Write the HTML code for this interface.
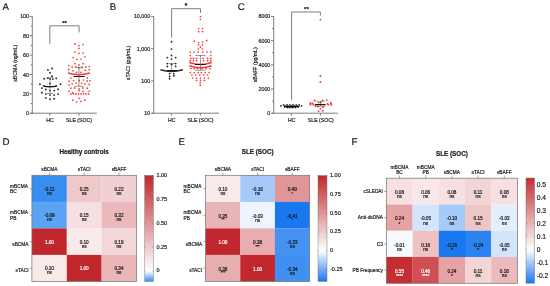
<!DOCTYPE html>
<html><head><meta charset="utf-8"><title>Figure</title>
<style>
html,body{margin:0;padding:0;background:#fff;}
body{width:550px;height:286px;overflow:hidden;}
svg{display:block;font-family:"Liberation Sans", sans-serif;will-change:transform;}
</style></head>
<body>
<svg width="550" height="286" viewBox="0 0 550 286" shape-rendering="auto">
<rect width="550" height="286" fill="#fff"/>
<text x="2.60" y="9.50" font-size="9.7" text-anchor="start" font-weight="normal" fill="#1a1a1a" stroke="#1a1a1a" stroke-width="0.18" text-rendering="geometricPrecision">A</text>
<text x="109.80" y="9.50" font-size="9.7" text-anchor="start" font-weight="normal" fill="#1a1a1a" stroke="#1a1a1a" stroke-width="0.18" text-rendering="geometricPrecision">B</text>
<text x="237.80" y="9.50" font-size="9.7" text-anchor="start" font-weight="normal" fill="#1a1a1a" stroke="#1a1a1a" stroke-width="0.18" text-rendering="geometricPrecision">C</text>
<text x="2.40" y="145.30" font-size="9.7" text-anchor="start" font-weight="normal" fill="#1a1a1a" stroke="#1a1a1a" stroke-width="0.18" text-rendering="geometricPrecision">D</text>
<text x="178.60" y="145.30" font-size="9.7" text-anchor="start" font-weight="normal" fill="#1a1a1a" stroke="#1a1a1a" stroke-width="0.18" text-rendering="geometricPrecision">E</text>
<text x="351.60" y="145.30" font-size="9.7" text-anchor="start" font-weight="normal" fill="#1a1a1a" stroke="#1a1a1a" stroke-width="0.18" text-rendering="geometricPrecision">F</text>
<line x1="32.30" y1="16.00" x2="32.30" y2="113.60" stroke="#707070" stroke-width="0.9"/>
<line x1="30.70" y1="113.20" x2="96.80" y2="113.20" stroke="#707070" stroke-width="0.9"/>
<line x1="29.50" y1="113.20" x2="32.30" y2="113.20" stroke="#707070" stroke-width="0.9"/>
<text x="29.00" y="115.25" font-size="5.3" text-anchor="end" font-weight="normal" fill="#1a1a1a" stroke="#1a1a1a" stroke-width="0.18" >0</text>
<line x1="29.50" y1="93.84" x2="32.30" y2="93.84" stroke="#707070" stroke-width="0.9"/>
<text x="29.00" y="95.89" font-size="5.3" text-anchor="end" font-weight="normal" fill="#1a1a1a" stroke="#1a1a1a" stroke-width="0.18" >20</text>
<line x1="29.50" y1="74.48" x2="32.30" y2="74.48" stroke="#707070" stroke-width="0.9"/>
<text x="29.00" y="76.53" font-size="5.3" text-anchor="end" font-weight="normal" fill="#1a1a1a" stroke="#1a1a1a" stroke-width="0.18" >40</text>
<line x1="29.50" y1="55.12" x2="32.30" y2="55.12" stroke="#707070" stroke-width="0.9"/>
<text x="29.00" y="57.17" font-size="5.3" text-anchor="end" font-weight="normal" fill="#1a1a1a" stroke="#1a1a1a" stroke-width="0.18" >60</text>
<line x1="29.50" y1="35.76" x2="32.30" y2="35.76" stroke="#707070" stroke-width="0.9"/>
<text x="29.00" y="37.81" font-size="5.3" text-anchor="end" font-weight="normal" fill="#1a1a1a" stroke="#1a1a1a" stroke-width="0.18" >80</text>
<line x1="29.50" y1="16.40" x2="32.30" y2="16.40" stroke="#707070" stroke-width="0.9"/>
<text x="29.00" y="18.45" font-size="5.3" text-anchor="end" font-weight="normal" fill="#1a1a1a" stroke="#1a1a1a" stroke-width="0.18" >100</text>
<line x1="30.70" y1="103.52" x2="32.30" y2="103.52" stroke="#707070" stroke-width="0.9"/>
<line x1="30.70" y1="84.16" x2="32.30" y2="84.16" stroke="#707070" stroke-width="0.9"/>
<line x1="30.70" y1="64.80" x2="32.30" y2="64.80" stroke="#707070" stroke-width="0.9"/>
<line x1="30.70" y1="45.44" x2="32.30" y2="45.44" stroke="#707070" stroke-width="0.9"/>
<line x1="30.70" y1="26.08" x2="32.30" y2="26.08" stroke="#707070" stroke-width="0.9"/>
<line x1="49.80" y1="113.20" x2="49.80" y2="115.60" stroke="#707070" stroke-width="0.9"/>
<line x1="79.05" y1="113.20" x2="79.05" y2="115.60" stroke="#707070" stroke-width="0.9"/>
<text x="50.00" y="121.60" font-size="5.2" text-anchor="middle" font-weight="normal" fill="#1a1a1a" stroke="#1a1a1a" stroke-width="0.18" >HC</text>
<text x="79.10" y="121.60" font-size="5.2" text-anchor="middle" font-weight="normal" fill="#1a1a1a" stroke="#1a1a1a" stroke-width="0.18" >SLE (SOC)</text>
<text x="0.00" y="0.00" font-size="5.25" text-anchor="middle" font-weight="normal" fill="#1a1a1a" stroke="#1a1a1a" stroke-width="0.18" transform="translate(16.6,63.3) rotate(-90)">sBCMA (ng/mL)</text>
<path d="M49.8,44 V25.8 H79.1 V32.4" stroke="#707070" stroke-width="0.9" fill="none"/>
<text x="64.50" y="24.90" font-size="6" text-anchor="middle" font-weight="bold" fill="#1a1a1a" stroke="#1a1a1a" stroke-width="0.2" >**</text>
<circle cx="47.90" cy="69.90" r="0.95" fill="#2a2a2a"/>
<circle cx="52.10" cy="68.50" r="0.95" fill="#2a2a2a"/>
<circle cx="50.00" cy="72.70" r="0.95" fill="#2a2a2a"/>
<circle cx="52.10" cy="76.30" r="0.95" fill="#2a2a2a"/>
<circle cx="44.10" cy="78.70" r="0.95" fill="#2a2a2a"/>
<circle cx="47.90" cy="78.00" r="0.95" fill="#2a2a2a"/>
<circle cx="50.00" cy="79.10" r="0.95" fill="#2a2a2a"/>
<circle cx="52.80" cy="79.10" r="0.95" fill="#2a2a2a"/>
<circle cx="56.30" cy="78.40" r="0.95" fill="#2a2a2a"/>
<circle cx="50.00" cy="83.60" r="0.95" fill="#2a2a2a"/>
<circle cx="39.90" cy="84.30" r="0.95" fill="#2a2a2a"/>
<circle cx="60.50" cy="84.30" r="0.95" fill="#2a2a2a"/>
<circle cx="41.90" cy="88.10" r="0.95" fill="#2a2a2a"/>
<circle cx="45.80" cy="89.50" r="0.95" fill="#2a2a2a"/>
<circle cx="50.00" cy="90.60" r="0.95" fill="#2a2a2a"/>
<circle cx="54.20" cy="90.60" r="0.95" fill="#2a2a2a"/>
<circle cx="58.10" cy="89.20" r="0.95" fill="#2a2a2a"/>
<circle cx="41.90" cy="92.70" r="0.95" fill="#2a2a2a"/>
<circle cx="45.80" cy="94.10" r="0.95" fill="#2a2a2a"/>
<circle cx="50.00" cy="95.10" r="0.95" fill="#2a2a2a"/>
<circle cx="54.20" cy="95.10" r="0.95" fill="#2a2a2a"/>
<circle cx="58.10" cy="94.10" r="0.95" fill="#2a2a2a"/>
<circle cx="45.80" cy="97.90" r="0.95" fill="#2a2a2a"/>
<circle cx="50.00" cy="99.30" r="0.95" fill="#2a2a2a"/>
<circle cx="54.20" cy="98.70" r="0.95" fill="#2a2a2a"/>
<path d="M42.8,85.6 Q50,88.2 57.2,85.6" stroke="#2a2a2a" stroke-width="1.4" fill="none"/>
<line x1="43.80" y1="86.50" x2="56.40" y2="86.50" stroke="#111" stroke-width="1.0"/>
<line x1="50.00" y1="77.80" x2="50.00" y2="93.50" stroke="#555" stroke-width="0.6"/>
<line x1="46.50" y1="77.80" x2="53.50" y2="77.80" stroke="#555" stroke-width="0.6"/>
<line x1="46.50" y1="93.50" x2="53.50" y2="93.50" stroke="#555" stroke-width="0.6"/>
<circle cx="74.90" cy="43.90" r="0.85" fill="#f03c3c"/>
<circle cx="78.90" cy="45.60" r="0.85" fill="#f03c3c"/>
<circle cx="83.00" cy="44.50" r="0.85" fill="#f03c3c"/>
<circle cx="78.90" cy="48.40" r="0.85" fill="#f03c3c"/>
<circle cx="74.90" cy="52.10" r="0.85" fill="#f03c3c"/>
<circle cx="78.90" cy="53.40" r="0.85" fill="#f03c3c"/>
<circle cx="83.00" cy="53.10" r="0.85" fill="#f03c3c"/>
<circle cx="73.00" cy="57.60" r="0.85" fill="#f03c3c"/>
<circle cx="76.90" cy="59.30" r="0.85" fill="#f03c3c"/>
<circle cx="81.00" cy="59.00" r="0.85" fill="#f03c3c"/>
<circle cx="85.00" cy="56.80" r="0.85" fill="#f03c3c"/>
<circle cx="74.90" cy="63.70" r="0.85" fill="#f03c3c"/>
<circle cx="78.90" cy="64.90" r="0.85" fill="#f03c3c"/>
<circle cx="83.00" cy="63.70" r="0.85" fill="#f03c3c"/>
<circle cx="68.70" cy="65.50" r="0.85" fill="#f03c3c"/>
<circle cx="72.10" cy="66.90" r="0.85" fill="#f03c3c"/>
<circle cx="75.80" cy="67.10" r="0.85" fill="#f03c3c"/>
<circle cx="78.90" cy="68.00" r="0.85" fill="#f03c3c"/>
<circle cx="82.10" cy="67.40" r="0.85" fill="#f03c3c"/>
<circle cx="85.80" cy="66.90" r="0.85" fill="#f03c3c"/>
<circle cx="89.20" cy="66.50" r="0.85" fill="#f03c3c"/>
<circle cx="68.70" cy="69.70" r="0.85" fill="#f03c3c"/>
<circle cx="73.00" cy="70.80" r="0.85" fill="#f03c3c"/>
<circle cx="85.30" cy="70.20" r="0.85" fill="#f03c3c"/>
<circle cx="89.20" cy="69.70" r="0.85" fill="#f03c3c"/>
<circle cx="76.60" cy="72.40" r="0.85" fill="#f03c3c"/>
<circle cx="81.00" cy="72.40" r="0.85" fill="#f03c3c"/>
<circle cx="70.90" cy="78.10" r="0.85" fill="#f03c3c"/>
<circle cx="87.30" cy="78.10" r="0.85" fill="#f03c3c"/>
<circle cx="69.00" cy="81.20" r="0.85" fill="#f03c3c"/>
<circle cx="73.50" cy="80.60" r="0.85" fill="#f03c3c"/>
<circle cx="79.10" cy="80.60" r="0.85" fill="#f03c3c"/>
<circle cx="83.50" cy="80.00" r="0.85" fill="#f03c3c"/>
<circle cx="87.30" cy="81.20" r="0.85" fill="#f03c3c"/>
<circle cx="89.90" cy="80.60" r="0.85" fill="#f03c3c"/>
<circle cx="69.00" cy="85.00" r="0.85" fill="#f03c3c"/>
<circle cx="72.20" cy="83.80" r="0.85" fill="#f03c3c"/>
<circle cx="76.00" cy="83.10" r="0.85" fill="#f03c3c"/>
<circle cx="81.70" cy="83.10" r="0.85" fill="#f03c3c"/>
<circle cx="84.80" cy="83.80" r="0.85" fill="#f03c3c"/>
<circle cx="89.20" cy="84.40" r="0.85" fill="#f03c3c"/>
<circle cx="70.90" cy="88.20" r="0.85" fill="#f03c3c"/>
<circle cx="74.70" cy="87.90" r="0.85" fill="#f03c3c"/>
<circle cx="79.10" cy="88.80" r="0.85" fill="#f03c3c"/>
<circle cx="82.90" cy="87.90" r="0.85" fill="#f03c3c"/>
<circle cx="87.30" cy="88.20" r="0.85" fill="#f03c3c"/>
<circle cx="69.00" cy="91.30" r="0.85" fill="#f03c3c"/>
<circle cx="72.80" cy="92.60" r="0.85" fill="#f03c3c"/>
<circle cx="79.10" cy="90.70" r="0.85" fill="#f03c3c"/>
<circle cx="82.90" cy="91.30" r="0.85" fill="#f03c3c"/>
<circle cx="89.20" cy="91.30" r="0.85" fill="#f03c3c"/>
<circle cx="70.90" cy="93.90" r="0.85" fill="#f03c3c"/>
<circle cx="73.50" cy="93.90" r="0.85" fill="#f03c3c"/>
<circle cx="76.00" cy="93.90" r="0.85" fill="#f03c3c"/>
<circle cx="78.50" cy="93.90" r="0.85" fill="#f03c3c"/>
<circle cx="81.00" cy="93.90" r="0.85" fill="#f03c3c"/>
<circle cx="83.50" cy="93.90" r="0.85" fill="#f03c3c"/>
<circle cx="86.00" cy="93.90" r="0.85" fill="#f03c3c"/>
<circle cx="88.60" cy="93.90" r="0.85" fill="#f03c3c"/>
<circle cx="72.80" cy="100.20" r="0.85" fill="#f03c3c"/>
<circle cx="79.10" cy="98.30" r="0.85" fill="#f03c3c"/>
<circle cx="76.60" cy="102.00" r="0.85" fill="#f03c3c"/>
<circle cx="81.00" cy="101.40" r="0.85" fill="#f03c3c"/>
<circle cx="84.80" cy="100.20" r="0.85" fill="#f03c3c"/>
<path d="M67.9,73.1 Q78.9,76.4 89.9,73.1" stroke="#f03c3c" stroke-width="1.6" fill="none"/>
<line x1="73.60" y1="76.50" x2="84.70" y2="76.50" stroke="#111" stroke-width="1.0"/>
<line x1="78.90" y1="67.30" x2="78.90" y2="86.20" stroke="#555" stroke-width="0.65"/>
<line x1="74.70" y1="67.30" x2="83.10" y2="67.30" stroke="#555" stroke-width="0.65"/>
<line x1="74.70" y1="86.20" x2="83.10" y2="86.20" stroke="#555" stroke-width="0.65"/>
<line x1="153.70" y1="16.00" x2="153.70" y2="113.60" stroke="#707070" stroke-width="0.9"/>
<line x1="152.10" y1="113.20" x2="219.00" y2="113.20" stroke="#707070" stroke-width="0.9"/>
<line x1="150.90" y1="113.20" x2="153.70" y2="113.20" stroke="#707070" stroke-width="0.9"/>
<text x="150.10" y="115.25" font-size="5.3" text-anchor="end" font-weight="normal" fill="#1a1a1a" stroke="#1a1a1a" stroke-width="0.18" >10</text>
<line x1="150.90" y1="80.93" x2="153.70" y2="80.93" stroke="#707070" stroke-width="0.9"/>
<text x="150.10" y="82.98" font-size="5.3" text-anchor="end" font-weight="normal" fill="#1a1a1a" stroke="#1a1a1a" stroke-width="0.18" >100</text>
<line x1="150.90" y1="48.66" x2="153.70" y2="48.66" stroke="#707070" stroke-width="0.9"/>
<text x="150.10" y="50.71" font-size="5.3" text-anchor="end" font-weight="normal" fill="#1a1a1a" stroke="#1a1a1a" stroke-width="0.18" >1,000</text>
<line x1="150.90" y1="16.39" x2="153.70" y2="16.39" stroke="#707070" stroke-width="0.9"/>
<text x="150.10" y="18.44" font-size="5.3" text-anchor="end" font-weight="normal" fill="#1a1a1a" stroke="#1a1a1a" stroke-width="0.18" >10,000</text>
<line x1="171.40" y1="113.20" x2="171.40" y2="115.60" stroke="#707070" stroke-width="0.9"/>
<line x1="200.40" y1="113.20" x2="200.40" y2="115.60" stroke="#707070" stroke-width="0.9"/>
<text x="171.70" y="121.60" font-size="5.2" text-anchor="middle" font-weight="normal" fill="#1a1a1a" stroke="#1a1a1a" stroke-width="0.18" >HC</text>
<text x="200.60" y="121.60" font-size="5.2" text-anchor="middle" font-weight="normal" fill="#1a1a1a" stroke="#1a1a1a" stroke-width="0.18" >SLE (SOC)</text>
<text x="0.00" y="0.00" font-size="5.35" text-anchor="middle" font-weight="normal" fill="#1a1a1a" stroke="#1a1a1a" stroke-width="0.18" transform="translate(130,63) rotate(-90)">sTACI (pg/mL)</text>
<path d="M171.6,37.5 V8.7 H200.5 V12.9" stroke="#707070" stroke-width="0.9" fill="none"/>
<text x="186.10" y="8.40" font-size="6.5" text-anchor="middle" font-weight="bold" fill="#1a1a1a" stroke="#1a1a1a" stroke-width="0.2" >*</text>
<circle cx="171.50" cy="41.80" r="0.95" fill="#2a2a2a"/>
<circle cx="171.50" cy="49.10" r="0.95" fill="#2a2a2a"/>
<circle cx="171.50" cy="55.50" r="0.95" fill="#2a2a2a"/>
<circle cx="167.30" cy="57.60" r="0.95" fill="#2a2a2a"/>
<circle cx="175.60" cy="57.60" r="0.95" fill="#2a2a2a"/>
<circle cx="171.50" cy="59.10" r="0.95" fill="#2a2a2a"/>
<circle cx="167.30" cy="63.60" r="0.95" fill="#2a2a2a"/>
<circle cx="171.50" cy="64.50" r="0.95" fill="#2a2a2a"/>
<circle cx="175.60" cy="63.60" r="0.95" fill="#2a2a2a"/>
<circle cx="167.30" cy="66.40" r="0.95" fill="#2a2a2a"/>
<circle cx="175.60" cy="66.40" r="0.95" fill="#2a2a2a"/>
<circle cx="169.60" cy="73.60" r="0.95" fill="#2a2a2a"/>
<circle cx="173.80" cy="73.60" r="0.95" fill="#2a2a2a"/>
<circle cx="169.60" cy="76.40" r="0.95" fill="#2a2a2a"/>
<circle cx="173.80" cy="75.80" r="0.95" fill="#2a2a2a"/>
<circle cx="169.60" cy="78.70" r="0.95" fill="#2a2a2a"/>
<path d="M160.5,69.8 Q171.7,73.2 182.9,69.8" stroke="#2a2a2a" stroke-width="1.5" fill="none"/>
<line x1="167.00" y1="70.50" x2="177.00" y2="70.50" stroke="#111" stroke-width="1.0"/>
<line x1="171.60" y1="63.60" x2="171.60" y2="72.00" stroke="#333" stroke-width="0.5"/>
<line x1="168.50" y1="63.60" x2="174.70" y2="63.60" stroke="#333" stroke-width="0.5"/>
<circle cx="190.30" cy="52.10" r="0.85" fill="#f03c3c"/>
<circle cx="194.20" cy="52.10" r="0.85" fill="#f03c3c"/>
<circle cx="198.20" cy="52.10" r="0.85" fill="#f03c3c"/>
<circle cx="202.90" cy="52.10" r="0.85" fill="#f03c3c"/>
<circle cx="206.80" cy="52.10" r="0.85" fill="#f03c3c"/>
<circle cx="210.80" cy="52.10" r="0.85" fill="#f03c3c"/>
<circle cx="190.30" cy="55.50" r="0.85" fill="#f03c3c"/>
<circle cx="210.80" cy="55.50" r="0.85" fill="#f03c3c"/>
<circle cx="191.00" cy="58.40" r="0.85" fill="#f03c3c"/>
<circle cx="193.50" cy="58.40" r="0.85" fill="#f03c3c"/>
<circle cx="196.60" cy="58.40" r="0.85" fill="#f03c3c"/>
<circle cx="203.00" cy="58.40" r="0.85" fill="#f03c3c"/>
<circle cx="207.60" cy="58.40" r="0.85" fill="#f03c3c"/>
<circle cx="210.80" cy="58.40" r="0.85" fill="#f03c3c"/>
<circle cx="190.30" cy="60.70" r="0.85" fill="#f03c3c"/>
<circle cx="193.50" cy="60.70" r="0.85" fill="#f03c3c"/>
<circle cx="196.60" cy="60.70" r="0.85" fill="#f03c3c"/>
<circle cx="203.60" cy="60.70" r="0.85" fill="#f03c3c"/>
<circle cx="207.60" cy="60.70" r="0.85" fill="#f03c3c"/>
<circle cx="210.80" cy="60.70" r="0.85" fill="#f03c3c"/>
<circle cx="191.00" cy="68.60" r="0.85" fill="#f03c3c"/>
<circle cx="194.20" cy="68.60" r="0.85" fill="#f03c3c"/>
<circle cx="197.40" cy="68.60" r="0.85" fill="#f03c3c"/>
<circle cx="202.10" cy="68.60" r="0.85" fill="#f03c3c"/>
<circle cx="206.00" cy="68.60" r="0.85" fill="#f03c3c"/>
<circle cx="210.00" cy="68.60" r="0.85" fill="#f03c3c"/>
<circle cx="190.30" cy="72.60" r="0.85" fill="#f03c3c"/>
<circle cx="194.20" cy="72.60" r="0.85" fill="#f03c3c"/>
<circle cx="198.20" cy="72.60" r="0.85" fill="#f03c3c"/>
<circle cx="201.30" cy="72.60" r="0.85" fill="#f03c3c"/>
<circle cx="205.30" cy="72.60" r="0.85" fill="#f03c3c"/>
<circle cx="209.20" cy="72.60" r="0.85" fill="#f03c3c"/>
<circle cx="191.90" cy="75.00" r="0.85" fill="#f03c3c"/>
<circle cx="195.80" cy="75.00" r="0.85" fill="#f03c3c"/>
<circle cx="199.70" cy="75.00" r="0.85" fill="#f03c3c"/>
<circle cx="203.60" cy="75.00" r="0.85" fill="#f03c3c"/>
<circle cx="207.60" cy="75.00" r="0.85" fill="#f03c3c"/>
<circle cx="192.70" cy="78.00" r="0.85" fill="#f03c3c"/>
<circle cx="196.60" cy="78.00" r="0.85" fill="#f03c3c"/>
<circle cx="200.50" cy="78.00" r="0.85" fill="#f03c3c"/>
<circle cx="204.40" cy="78.00" r="0.85" fill="#f03c3c"/>
<circle cx="208.40" cy="78.00" r="0.85" fill="#f03c3c"/>
<circle cx="196.60" cy="80.40" r="0.85" fill="#f03c3c"/>
<circle cx="200.50" cy="80.40" r="0.85" fill="#f03c3c"/>
<circle cx="204.40" cy="80.40" r="0.85" fill="#f03c3c"/>
<circle cx="200.20" cy="82.80" r="0.85" fill="#f03c3c"/>
<circle cx="200.20" cy="85.20" r="0.85" fill="#f03c3c"/>
<circle cx="200.40" cy="16.60" r="0.85" fill="#f03c3c"/>
<circle cx="200.40" cy="19.50" r="0.85" fill="#f03c3c"/>
<circle cx="198.60" cy="28.50" r="0.85" fill="#f03c3c"/>
<circle cx="202.50" cy="28.50" r="0.85" fill="#f03c3c"/>
<circle cx="198.60" cy="31.70" r="0.85" fill="#f03c3c"/>
<circle cx="202.50" cy="31.70" r="0.85" fill="#f03c3c"/>
<circle cx="194.40" cy="41.10" r="0.85" fill="#f03c3c"/>
<circle cx="206.80" cy="40.40" r="0.85" fill="#f03c3c"/>
<circle cx="198.60" cy="42.50" r="0.85" fill="#f03c3c"/>
<circle cx="202.50" cy="42.00" r="0.85" fill="#f03c3c"/>
<circle cx="198.60" cy="44.80" r="0.85" fill="#f03c3c"/>
<circle cx="202.50" cy="44.80" r="0.85" fill="#f03c3c"/>
<circle cx="200.40" cy="47.20" r="0.85" fill="#f03c3c"/>
<circle cx="198.50" cy="49.00" r="0.85" fill="#f03c3c"/>
<circle cx="202.50" cy="49.00" r="0.85" fill="#f03c3c"/>
<path d="M189.3,62.6 Q200.5,66.4 211.7,62.6" stroke="#f03c3c" stroke-width="1.6" fill="none"/>
<path d="M189.3,65.8 Q200.5,69.6 211.7,65.8" stroke="#f03c3c" stroke-width="1.6" fill="none"/>
<line x1="195.10" y1="64.50" x2="205.50" y2="64.50" stroke="#111" stroke-width="1.0"/>
<line x1="200.50" y1="55.50" x2="200.50" y2="70.20" stroke="#555" stroke-width="0.6"/>
<line x1="195.10" y1="55.50" x2="205.50" y2="55.50" stroke="#555" stroke-width="0.6"/>
<line x1="195.10" y1="70.20" x2="205.50" y2="70.20" stroke="#555" stroke-width="0.6"/>
<line x1="273.70" y1="16.00" x2="273.70" y2="113.60" stroke="#707070" stroke-width="0.9"/>
<line x1="272.10" y1="113.20" x2="338.00" y2="113.20" stroke="#707070" stroke-width="0.9"/>
<line x1="270.90" y1="113.20" x2="273.70" y2="113.20" stroke="#707070" stroke-width="0.9"/>
<text x="270.30" y="115.25" font-size="5.3" text-anchor="end" font-weight="normal" fill="#1a1a1a" stroke="#1a1a1a" stroke-width="0.18" >0</text>
<line x1="272.10" y1="101.10" x2="273.70" y2="101.10" stroke="#707070" stroke-width="0.9"/>
<line x1="270.90" y1="89.00" x2="273.70" y2="89.00" stroke="#707070" stroke-width="0.9"/>
<text x="270.30" y="91.05" font-size="5.3" text-anchor="end" font-weight="normal" fill="#1a1a1a" stroke="#1a1a1a" stroke-width="0.18" >2000</text>
<line x1="272.10" y1="76.90" x2="273.70" y2="76.90" stroke="#707070" stroke-width="0.9"/>
<line x1="270.90" y1="64.80" x2="273.70" y2="64.80" stroke="#707070" stroke-width="0.9"/>
<text x="270.30" y="66.85" font-size="5.3" text-anchor="end" font-weight="normal" fill="#1a1a1a" stroke="#1a1a1a" stroke-width="0.18" >4000</text>
<line x1="272.10" y1="52.70" x2="273.70" y2="52.70" stroke="#707070" stroke-width="0.9"/>
<line x1="270.90" y1="40.60" x2="273.70" y2="40.60" stroke="#707070" stroke-width="0.9"/>
<text x="270.30" y="42.65" font-size="5.3" text-anchor="end" font-weight="normal" fill="#1a1a1a" stroke="#1a1a1a" stroke-width="0.18" >6000</text>
<line x1="272.10" y1="28.50" x2="273.70" y2="28.50" stroke="#707070" stroke-width="0.9"/>
<line x1="270.90" y1="16.40" x2="273.70" y2="16.40" stroke="#707070" stroke-width="0.9"/>
<text x="270.30" y="18.45" font-size="5.3" text-anchor="end" font-weight="normal" fill="#1a1a1a" stroke="#1a1a1a" stroke-width="0.18" >8000</text>
<line x1="291.50" y1="113.20" x2="291.50" y2="115.60" stroke="#707070" stroke-width="0.9"/>
<line x1="320.40" y1="113.20" x2="320.40" y2="115.60" stroke="#707070" stroke-width="0.9"/>
<text x="291.80" y="121.60" font-size="5.2" text-anchor="middle" font-weight="normal" fill="#1a1a1a" stroke="#1a1a1a" stroke-width="0.18" >HC</text>
<text x="320.80" y="121.60" font-size="5.2" text-anchor="middle" font-weight="normal" fill="#1a1a1a" stroke="#1a1a1a" stroke-width="0.18" >SLE (SOC)</text>
<text x="0.00" y="0.00" font-size="5.15" text-anchor="middle" font-weight="normal" fill="#1a1a1a" stroke="#1a1a1a" stroke-width="0.18" transform="translate(257.3,64.8) rotate(-90)">sBAFF (pg/mL)</text>
<path d="M291.6,100.2 V12.0 H320.4 V15.5" stroke="#707070" stroke-width="0.9" fill="none"/>
<text x="306.40" y="11.30" font-size="6" text-anchor="middle" font-weight="bold" fill="#1a1a1a" stroke="#1a1a1a" stroke-width="0.2" >**</text>
<circle cx="283.60" cy="104.90" r="0.90" fill="#2a2a2a"/>
<circle cx="287.00" cy="104.90" r="0.90" fill="#2a2a2a"/>
<circle cx="290.00" cy="104.90" r="0.90" fill="#2a2a2a"/>
<circle cx="293.00" cy="104.90" r="0.90" fill="#2a2a2a"/>
<circle cx="296.20" cy="104.90" r="0.90" fill="#2a2a2a"/>
<circle cx="299.20" cy="104.90" r="0.90" fill="#2a2a2a"/>
<circle cx="281.00" cy="105.90" r="0.90" fill="#2a2a2a"/>
<circle cx="285.00" cy="105.90" r="0.90" fill="#2a2a2a"/>
<circle cx="288.00" cy="105.90" r="0.90" fill="#2a2a2a"/>
<circle cx="291.50" cy="105.90" r="0.90" fill="#2a2a2a"/>
<circle cx="294.50" cy="105.90" r="0.90" fill="#2a2a2a"/>
<circle cx="297.50" cy="105.90" r="0.90" fill="#2a2a2a"/>
<circle cx="301.60" cy="105.90" r="0.90" fill="#2a2a2a"/>
<circle cx="284.60" cy="107.00" r="0.90" fill="#2a2a2a"/>
<circle cx="286.60" cy="107.00" r="0.90" fill="#2a2a2a"/>
<circle cx="289.00" cy="107.00" r="0.90" fill="#2a2a2a"/>
<circle cx="291.20" cy="107.00" r="0.90" fill="#2a2a2a"/>
<circle cx="293.40" cy="107.00" r="0.90" fill="#2a2a2a"/>
<circle cx="295.60" cy="107.00" r="0.90" fill="#2a2a2a"/>
<circle cx="298.00" cy="107.00" r="0.90" fill="#2a2a2a"/>
<circle cx="287.50" cy="107.50" r="0.90" fill="#2a2a2a"/>
<circle cx="290.00" cy="107.50" r="0.90" fill="#2a2a2a"/>
<circle cx="292.50" cy="107.50" r="0.90" fill="#2a2a2a"/>
<circle cx="295.50" cy="107.50" r="0.90" fill="#2a2a2a"/>
<line x1="284.50" y1="106.50" x2="299.50" y2="106.50" stroke="#111" stroke-width="1.0"/>
<circle cx="320.40" cy="76.00" r="0.95" fill="#f03c3c"/>
<circle cx="320.40" cy="82.00" r="0.95" fill="#f03c3c"/>
<circle cx="314.50" cy="100.40" r="0.95" fill="#f03c3c"/>
<circle cx="322.70" cy="100.50" r="0.95" fill="#f03c3c"/>
<circle cx="326.80" cy="100.10" r="0.95" fill="#f03c3c"/>
<circle cx="310.40" cy="102.90" r="0.95" fill="#f03c3c"/>
<circle cx="310.40" cy="104.50" r="0.95" fill="#f03c3c"/>
<circle cx="312.60" cy="103.50" r="0.95" fill="#f03c3c"/>
<circle cx="313.50" cy="104.80" r="0.95" fill="#f03c3c"/>
<circle cx="318.60" cy="102.60" r="0.95" fill="#f03c3c"/>
<circle cx="320.80" cy="102.30" r="0.95" fill="#f03c3c"/>
<circle cx="327.40" cy="103.90" r="0.95" fill="#f03c3c"/>
<circle cx="328.30" cy="104.80" r="0.95" fill="#f03c3c"/>
<circle cx="330.80" cy="102.90" r="0.95" fill="#f03c3c"/>
<circle cx="331.20" cy="104.80" r="0.95" fill="#f03c3c"/>
<circle cx="315.40" cy="106.00" r="0.95" fill="#f03c3c"/>
<circle cx="318.00" cy="106.40" r="0.95" fill="#f03c3c"/>
<circle cx="323.00" cy="107.30" r="0.95" fill="#f03c3c"/>
<circle cx="320.50" cy="108.60" r="0.95" fill="#f03c3c"/>
<circle cx="318.60" cy="111.10" r="0.95" fill="#f03c3c"/>
<circle cx="322.70" cy="110.80" r="0.95" fill="#f03c3c"/>
<circle cx="320.40" cy="19.60" r="0.95" fill="#f03c3c"/>
<circle cx="310.60" cy="103.70" r="0.95" fill="#f03c3c"/>
<circle cx="331.00" cy="103.80" r="0.95" fill="#f03c3c"/>
<line x1="315.40" y1="101.30" x2="325.50" y2="101.30" stroke="#777" stroke-width="0.6"/>
<line x1="315.10" y1="104.50" x2="325.50" y2="104.50" stroke="#111" stroke-width="1.0"/>
<line x1="315.10" y1="106.00" x2="325.80" y2="106.00" stroke="#333" stroke-width="0.7"/>
<line x1="320.40" y1="101.30" x2="320.40" y2="106.00" stroke="#333" stroke-width="0.5"/>
<rect x="32.00" y="175.40" width="34.85" height="26.55" fill="#378ef0"/>
<rect x="66.80" y="175.40" width="34.85" height="26.55" fill="#efc9ca"/>
<rect x="101.60" y="175.40" width="34.85" height="26.55" fill="#f1d0d1"/>
<rect x="32.00" y="201.90" width="34.85" height="26.55" fill="#5ba3f3"/>
<rect x="66.80" y="201.90" width="34.85" height="26.55" fill="#f6dfe0"/>
<rect x="101.60" y="201.90" width="34.85" height="26.55" fill="#ebbabc"/>
<rect x="32.00" y="228.40" width="34.85" height="26.55" fill="#c0282d"/>
<rect x="66.80" y="228.40" width="34.85" height="26.55" fill="#f9eaea"/>
<rect x="101.60" y="228.40" width="34.85" height="26.55" fill="#f3d6d7"/>
<rect x="32.00" y="254.90" width="34.85" height="26.55" fill="#f9eaea"/>
<rect x="66.80" y="254.90" width="34.85" height="26.55" fill="#c0282d"/>
<rect x="101.60" y="254.90" width="34.85" height="26.55" fill="#eab6b8"/>
<text x="49.40" y="190.95" font-size="4.65" text-anchor="middle" font-weight="normal" fill="#151515" stroke="#151515" stroke-width="0.18" >-0.11</text>
<text x="49.40" y="194.75" font-size="4.7" text-anchor="middle" font-weight="normal" fill="#151515" stroke="#151515" stroke-width="0.18" >ns</text>
<text x="84.20" y="190.95" font-size="4.65" text-anchor="middle" font-weight="normal" fill="#151515" stroke="#151515" stroke-width="0.18" >0.25</text>
<text x="84.20" y="194.75" font-size="4.7" text-anchor="middle" font-weight="normal" fill="#151515" stroke="#151515" stroke-width="0.18" >ns</text>
<text x="119.00" y="190.95" font-size="4.65" text-anchor="middle" font-weight="normal" fill="#151515" stroke="#151515" stroke-width="0.18" >0.22</text>
<text x="119.00" y="194.75" font-size="4.7" text-anchor="middle" font-weight="normal" fill="#151515" stroke="#151515" stroke-width="0.18" >ns</text>
<text x="49.40" y="217.45" font-size="4.65" text-anchor="middle" font-weight="normal" fill="#151515" stroke="#151515" stroke-width="0.18" >-0.09</text>
<text x="49.40" y="221.25" font-size="4.7" text-anchor="middle" font-weight="normal" fill="#151515" stroke="#151515" stroke-width="0.18" >ns</text>
<text x="84.20" y="217.45" font-size="4.65" text-anchor="middle" font-weight="normal" fill="#151515" stroke="#151515" stroke-width="0.18" >0.15</text>
<text x="84.20" y="221.25" font-size="4.7" text-anchor="middle" font-weight="normal" fill="#151515" stroke="#151515" stroke-width="0.18" >ns</text>
<text x="119.00" y="217.45" font-size="4.65" text-anchor="middle" font-weight="normal" fill="#151515" stroke="#151515" stroke-width="0.18" >0.32</text>
<text x="119.00" y="221.25" font-size="4.7" text-anchor="middle" font-weight="normal" fill="#151515" stroke="#151515" stroke-width="0.18" >ns</text>
<text x="49.40" y="243.95" font-size="4.65" text-anchor="middle" font-weight="normal" fill="#ffffff" stroke="#ffffff" stroke-width="0.18" >1.00</text>
<text x="84.20" y="243.95" font-size="4.65" text-anchor="middle" font-weight="normal" fill="#151515" stroke="#151515" stroke-width="0.18" >0.10</text>
<text x="84.20" y="247.75" font-size="4.7" text-anchor="middle" font-weight="normal" fill="#151515" stroke="#151515" stroke-width="0.18" >ns</text>
<text x="119.00" y="243.95" font-size="4.65" text-anchor="middle" font-weight="normal" fill="#151515" stroke="#151515" stroke-width="0.18" >0.19</text>
<text x="119.00" y="247.75" font-size="4.7" text-anchor="middle" font-weight="normal" fill="#151515" stroke="#151515" stroke-width="0.18" >ns</text>
<text x="49.40" y="270.45" font-size="4.65" text-anchor="middle" font-weight="normal" fill="#151515" stroke="#151515" stroke-width="0.18" >0.10</text>
<text x="49.40" y="274.25" font-size="4.7" text-anchor="middle" font-weight="normal" fill="#151515" stroke="#151515" stroke-width="0.18" >ns</text>
<text x="84.20" y="270.45" font-size="4.65" text-anchor="middle" font-weight="normal" fill="#ffffff" stroke="#ffffff" stroke-width="0.18" >1.00</text>
<text x="119.00" y="270.45" font-size="4.65" text-anchor="middle" font-weight="normal" fill="#151515" stroke="#151515" stroke-width="0.18" >0.34</text>
<text x="119.00" y="274.25" font-size="4.7" text-anchor="middle" font-weight="normal" fill="#151515" stroke="#151515" stroke-width="0.18" >ns</text>
<rect x="31.90" y="175.30" width="104.60" height="106.20" fill="none" stroke="#707070" stroke-width="0.7"/>
<line x1="49.40" y1="172.60" x2="49.40" y2="175.40" stroke="#555" stroke-width="0.5"/>
<text x="49.40" y="171.10" font-size="4.8" text-anchor="middle" font-weight="normal" fill="#1a1a1a" stroke="#1a1a1a" stroke-width="0.18" >sBCMA</text>
<line x1="84.20" y1="172.60" x2="84.20" y2="175.40" stroke="#555" stroke-width="0.5"/>
<text x="84.20" y="171.10" font-size="4.8" text-anchor="middle" font-weight="normal" fill="#1a1a1a" stroke="#1a1a1a" stroke-width="0.18" >sTACI</text>
<line x1="119.00" y1="172.60" x2="119.00" y2="175.40" stroke="#555" stroke-width="0.5"/>
<text x="119.00" y="171.10" font-size="4.8" text-anchor="middle" font-weight="normal" fill="#1a1a1a" stroke="#1a1a1a" stroke-width="0.18" >sBAFF</text>
<line x1="29.70" y1="188.65" x2="32.00" y2="188.65" stroke="#555" stroke-width="0.5"/>
<text x="10.00" y="187.95" font-size="4.8" text-anchor="start" font-weight="normal" fill="#1a1a1a" stroke="#1a1a1a" stroke-width="0.18" >mBCMA</text>
<text x="10.00" y="193.10" font-size="4.8" text-anchor="start" font-weight="normal" fill="#1a1a1a" stroke="#1a1a1a" stroke-width="0.18" >BC</text>
<line x1="29.70" y1="215.15" x2="32.00" y2="215.15" stroke="#555" stroke-width="0.5"/>
<text x="10.00" y="214.45" font-size="4.8" text-anchor="start" font-weight="normal" fill="#1a1a1a" stroke="#1a1a1a" stroke-width="0.18" >mBCMA</text>
<text x="10.00" y="219.60" font-size="4.8" text-anchor="start" font-weight="normal" fill="#1a1a1a" stroke="#1a1a1a" stroke-width="0.18" >PB</text>
<line x1="29.70" y1="241.65" x2="32.00" y2="241.65" stroke="#555" stroke-width="0.5"/>
<text x="28.50" y="245.85" font-size="4.8" text-anchor="end" font-weight="normal" fill="#1a1a1a" stroke="#1a1a1a" stroke-width="0.18" >sBCMA</text>
<line x1="29.70" y1="268.15" x2="32.00" y2="268.15" stroke="#555" stroke-width="0.5"/>
<text x="28.50" y="272.35" font-size="4.8" text-anchor="end" font-weight="normal" fill="#1a1a1a" stroke="#1a1a1a" stroke-width="0.18" >sTACI</text>
<text x="84.20" y="153.90" font-size="6.3" text-anchor="middle" font-weight="bold" fill="#1a1a1a" stroke="#1a1a1a" stroke-width="0.2" >Healthy controls</text>
<rect x="205.60" y="175.40" width="34.72" height="26.55" fill="#f9eaea"/>
<rect x="240.27" y="175.40" width="34.72" height="26.55" fill="#a5caf9"/>
<rect x="274.94" y="175.40" width="34.72" height="26.55" fill="#e09698"/>
<rect x="205.60" y="201.90" width="34.72" height="26.55" fill="#e9b4b6"/>
<rect x="240.27" y="201.90" width="34.72" height="26.55" fill="#eef5fe"/>
<rect x="274.94" y="201.90" width="34.72" height="26.55" fill="#1978f0"/>
<rect x="205.60" y="228.40" width="34.72" height="26.55" fill="#c0282d"/>
<rect x="240.27" y="228.40" width="34.72" height="26.55" fill="#e7adaf"/>
<rect x="274.94" y="228.40" width="34.72" height="26.55" fill="#4692f3"/>
<rect x="205.60" y="254.90" width="34.72" height="26.55" fill="#e7adaf"/>
<rect x="240.27" y="254.90" width="34.72" height="26.55" fill="#c0282d"/>
<rect x="274.94" y="254.90" width="34.72" height="26.55" fill="#408ff3"/>
<text x="222.94" y="191.05" font-size="4.65" text-anchor="middle" font-weight="normal" fill="#151515" stroke="#151515" stroke-width="0.18" >0.10</text>
<text x="222.94" y="195.15" font-size="4.7" text-anchor="middle" font-weight="normal" fill="#151515" stroke="#151515" stroke-width="0.18" >ns</text>
<text x="257.61" y="191.05" font-size="4.65" text-anchor="middle" font-weight="normal" fill="#151515" stroke="#151515" stroke-width="0.18" >-0.16</text>
<text x="257.61" y="195.15" font-size="4.7" text-anchor="middle" font-weight="normal" fill="#151515" stroke="#151515" stroke-width="0.18" >ns</text>
<text x="292.27" y="191.05" font-size="4.65" text-anchor="middle" font-weight="normal" fill="#151515" stroke="#151515" stroke-width="0.18" >0.49</text>
<text x="292.27" y="194.65" font-size="3.8" text-anchor="middle" font-weight="normal" fill="#151515" stroke="#151515" stroke-width="0.18" >*</text>
<text x="222.94" y="217.55" font-size="4.65" text-anchor="middle" font-weight="normal" fill="#151515" stroke="#151515" stroke-width="0.18" >0.35</text>
<text x="222.94" y="221.15" font-size="3.8" text-anchor="middle" font-weight="normal" fill="#151515" stroke="#151515" stroke-width="0.18" >**</text>
<text x="257.61" y="217.55" font-size="4.65" text-anchor="middle" font-weight="normal" fill="#151515" stroke="#151515" stroke-width="0.18" >-0.03</text>
<text x="257.61" y="221.65" font-size="4.7" text-anchor="middle" font-weight="normal" fill="#151515" stroke="#151515" stroke-width="0.18" >ns</text>
<text x="292.27" y="217.55" font-size="4.65" text-anchor="middle" font-weight="normal" fill="#151515" stroke="#151515" stroke-width="0.18" >-0.41</text>
<text x="292.27" y="221.15" font-size="3.8" text-anchor="middle" font-weight="normal" fill="#151515" stroke="#151515" stroke-width="0.18" >*</text>
<text x="222.94" y="244.05" font-size="4.65" text-anchor="middle" font-weight="normal" fill="#ffffff" stroke="#ffffff" stroke-width="0.18" >1.00</text>
<text x="257.61" y="244.05" font-size="4.65" text-anchor="middle" font-weight="normal" fill="#151515" stroke="#151515" stroke-width="0.18" >0.38</text>
<text x="257.61" y="247.65" font-size="3.8" text-anchor="middle" font-weight="normal" fill="#151515" stroke="#151515" stroke-width="0.18" >***</text>
<text x="292.27" y="244.05" font-size="4.65" text-anchor="middle" font-weight="normal" fill="#151515" stroke="#151515" stroke-width="0.18" >-0.33</text>
<text x="292.27" y="248.15" font-size="4.7" text-anchor="middle" font-weight="normal" fill="#151515" stroke="#151515" stroke-width="0.18" >ns</text>
<text x="222.94" y="270.55" font-size="4.65" text-anchor="middle" font-weight="normal" fill="#151515" stroke="#151515" stroke-width="0.18" >0.38</text>
<text x="222.94" y="274.15" font-size="3.8" text-anchor="middle" font-weight="normal" fill="#151515" stroke="#151515" stroke-width="0.18" >***</text>
<text x="257.61" y="270.55" font-size="4.65" text-anchor="middle" font-weight="normal" fill="#ffffff" stroke="#ffffff" stroke-width="0.18" >1.00</text>
<text x="292.27" y="270.55" font-size="4.65" text-anchor="middle" font-weight="normal" fill="#151515" stroke="#151515" stroke-width="0.18" >-0.34</text>
<text x="292.27" y="274.65" font-size="4.7" text-anchor="middle" font-weight="normal" fill="#151515" stroke="#151515" stroke-width="0.18" >ns</text>
<rect x="205.50" y="175.30" width="104.21" height="106.20" fill="none" stroke="#707070" stroke-width="0.7"/>
<line x1="222.94" y1="172.60" x2="222.94" y2="175.40" stroke="#555" stroke-width="0.5"/>
<text x="222.94" y="171.10" font-size="4.8" text-anchor="middle" font-weight="normal" fill="#1a1a1a" stroke="#1a1a1a" stroke-width="0.18" >sBCMA</text>
<line x1="257.61" y1="172.60" x2="257.61" y2="175.40" stroke="#555" stroke-width="0.5"/>
<text x="257.61" y="171.10" font-size="4.8" text-anchor="middle" font-weight="normal" fill="#1a1a1a" stroke="#1a1a1a" stroke-width="0.18" >sTACI</text>
<line x1="292.27" y1="172.60" x2="292.27" y2="175.40" stroke="#555" stroke-width="0.5"/>
<text x="292.27" y="171.10" font-size="4.8" text-anchor="middle" font-weight="normal" fill="#1a1a1a" stroke="#1a1a1a" stroke-width="0.18" >sBAFF</text>
<line x1="203.30" y1="188.65" x2="205.60" y2="188.65" stroke="#555" stroke-width="0.5"/>
<text x="183.60" y="187.95" font-size="4.8" text-anchor="start" font-weight="normal" fill="#1a1a1a" stroke="#1a1a1a" stroke-width="0.18" >mBCMA</text>
<text x="183.60" y="193.10" font-size="4.8" text-anchor="start" font-weight="normal" fill="#1a1a1a" stroke="#1a1a1a" stroke-width="0.18" >BC</text>
<line x1="203.30" y1="215.15" x2="205.60" y2="215.15" stroke="#555" stroke-width="0.5"/>
<text x="183.60" y="214.45" font-size="4.8" text-anchor="start" font-weight="normal" fill="#1a1a1a" stroke="#1a1a1a" stroke-width="0.18" >mBCMA</text>
<text x="183.60" y="219.60" font-size="4.8" text-anchor="start" font-weight="normal" fill="#1a1a1a" stroke="#1a1a1a" stroke-width="0.18" >PB</text>
<line x1="203.30" y1="241.65" x2="205.60" y2="241.65" stroke="#555" stroke-width="0.5"/>
<text x="202.10" y="245.85" font-size="4.8" text-anchor="end" font-weight="normal" fill="#1a1a1a" stroke="#1a1a1a" stroke-width="0.18" >sBCMA</text>
<line x1="203.30" y1="268.15" x2="205.60" y2="268.15" stroke="#555" stroke-width="0.5"/>
<text x="202.10" y="272.35" font-size="4.8" text-anchor="end" font-weight="normal" fill="#1a1a1a" stroke="#1a1a1a" stroke-width="0.18" >sTACI</text>
<text x="257.61" y="154.00" font-size="6.3" text-anchor="middle" font-weight="bold" fill="#1a1a1a" stroke="#1a1a1a" stroke-width="0.2" >SLE (SOC)</text>
<rect x="386.40" y="178.30" width="26.25" height="26.27" fill="#f7e0e1"/>
<rect x="412.60" y="178.30" width="26.25" height="26.27" fill="#f9e8e9"/>
<rect x="438.80" y="178.30" width="26.25" height="26.27" fill="#f7e0e1"/>
<rect x="465.00" y="178.30" width="26.25" height="26.27" fill="#f4d5d6"/>
<rect x="491.20" y="178.30" width="26.25" height="26.27" fill="#f7e0e1"/>
<rect x="386.40" y="204.52" width="26.25" height="26.27" fill="#e6a3a6"/>
<rect x="412.60" y="204.52" width="26.25" height="26.27" fill="#d3e5fc"/>
<rect x="438.80" y="204.52" width="26.25" height="26.27" fill="#a7cbf9"/>
<rect x="465.00" y="204.52" width="26.25" height="26.27" fill="#efc6c7"/>
<rect x="491.20" y="204.52" width="26.25" height="26.27" fill="#e4effd"/>
<rect x="386.40" y="230.74" width="26.25" height="26.27" fill="#f6fafe"/>
<rect x="412.60" y="230.74" width="26.25" height="26.27" fill="#eec2c3"/>
<rect x="438.80" y="230.74" width="26.25" height="26.27" fill="#1978f0"/>
<rect x="465.00" y="230.74" width="26.25" height="26.27" fill="#2b82f1"/>
<rect x="491.20" y="230.74" width="26.25" height="26.27" fill="#d3e5fc"/>
<rect x="386.40" y="256.96" width="26.25" height="26.27" fill="#c62d32"/>
<rect x="412.60" y="256.96" width="26.25" height="26.27" fill="#cf4f54"/>
<rect x="438.80" y="256.96" width="26.25" height="26.27" fill="#e6a3a6"/>
<rect x="465.00" y="256.96" width="26.25" height="26.27" fill="#f4d5d6"/>
<rect x="491.20" y="256.96" width="26.25" height="26.27" fill="#ecbabc"/>
<text x="399.50" y="194.11" font-size="4.65" text-anchor="middle" font-weight="normal" fill="#151515" stroke="#151515" stroke-width="0.18" >0.08</text>
<text x="399.50" y="198.41" font-size="4.7" text-anchor="middle" font-weight="normal" fill="#151515" stroke="#151515" stroke-width="0.18" >ns</text>
<text x="425.70" y="194.11" font-size="4.65" text-anchor="middle" font-weight="normal" fill="#151515" stroke="#151515" stroke-width="0.18" >0.06</text>
<text x="425.70" y="198.41" font-size="4.7" text-anchor="middle" font-weight="normal" fill="#151515" stroke="#151515" stroke-width="0.18" >ns</text>
<text x="451.90" y="194.11" font-size="4.65" text-anchor="middle" font-weight="normal" fill="#151515" stroke="#151515" stroke-width="0.18" >0.08</text>
<text x="451.90" y="198.41" font-size="4.7" text-anchor="middle" font-weight="normal" fill="#151515" stroke="#151515" stroke-width="0.18" >ns</text>
<text x="478.10" y="194.11" font-size="4.65" text-anchor="middle" font-weight="normal" fill="#151515" stroke="#151515" stroke-width="0.18" >0.11</text>
<text x="478.10" y="198.41" font-size="4.7" text-anchor="middle" font-weight="normal" fill="#151515" stroke="#151515" stroke-width="0.18" >ns</text>
<text x="504.30" y="194.11" font-size="4.65" text-anchor="middle" font-weight="normal" fill="#151515" stroke="#151515" stroke-width="0.18" >0.08</text>
<text x="504.30" y="198.41" font-size="4.7" text-anchor="middle" font-weight="normal" fill="#151515" stroke="#151515" stroke-width="0.18" >ns</text>
<text x="399.50" y="220.33" font-size="4.65" text-anchor="middle" font-weight="normal" fill="#151515" stroke="#151515" stroke-width="0.18" >0.24</text>
<text x="399.50" y="225.83" font-size="4.5" text-anchor="middle" font-weight="normal" fill="#151515" stroke="#151515" stroke-width="0.18" >*</text>
<text x="425.70" y="220.33" font-size="4.65" text-anchor="middle" font-weight="normal" fill="#151515" stroke="#151515" stroke-width="0.18" >-0.05</text>
<text x="425.70" y="224.63" font-size="4.7" text-anchor="middle" font-weight="normal" fill="#151515" stroke="#151515" stroke-width="0.18" >ns</text>
<text x="451.90" y="220.33" font-size="4.65" text-anchor="middle" font-weight="normal" fill="#151515" stroke="#151515" stroke-width="0.18" >-0.10</text>
<text x="451.90" y="224.63" font-size="4.7" text-anchor="middle" font-weight="normal" fill="#151515" stroke="#151515" stroke-width="0.18" >ns</text>
<text x="478.10" y="220.33" font-size="4.65" text-anchor="middle" font-weight="normal" fill="#151515" stroke="#151515" stroke-width="0.18" >0.15</text>
<text x="478.10" y="224.63" font-size="4.7" text-anchor="middle" font-weight="normal" fill="#151515" stroke="#151515" stroke-width="0.18" >ns</text>
<text x="504.30" y="220.33" font-size="4.65" text-anchor="middle" font-weight="normal" fill="#151515" stroke="#151515" stroke-width="0.18" >-0.03</text>
<text x="504.30" y="224.63" font-size="4.7" text-anchor="middle" font-weight="normal" fill="#151515" stroke="#151515" stroke-width="0.18" >ns</text>
<text x="399.50" y="246.55" font-size="4.65" text-anchor="middle" font-weight="normal" fill="#151515" stroke="#151515" stroke-width="0.18" >-0.01</text>
<text x="399.50" y="250.85" font-size="4.7" text-anchor="middle" font-weight="normal" fill="#151515" stroke="#151515" stroke-width="0.18" >ns</text>
<text x="425.70" y="246.55" font-size="4.65" text-anchor="middle" font-weight="normal" fill="#151515" stroke="#151515" stroke-width="0.18" >0.16</text>
<text x="425.70" y="250.85" font-size="4.7" text-anchor="middle" font-weight="normal" fill="#151515" stroke="#151515" stroke-width="0.18" >ns</text>
<text x="451.90" y="246.55" font-size="4.65" text-anchor="middle" font-weight="normal" fill="#151515" stroke="#151515" stroke-width="0.18" >-0.26</text>
<text x="451.90" y="252.05" font-size="4.5" text-anchor="middle" font-weight="normal" fill="#151515" stroke="#151515" stroke-width="0.18" >*</text>
<text x="478.10" y="246.55" font-size="4.65" text-anchor="middle" font-weight="normal" fill="#151515" stroke="#151515" stroke-width="0.18" >-0.24</text>
<text x="478.10" y="252.05" font-size="4.5" text-anchor="middle" font-weight="normal" fill="#151515" stroke="#151515" stroke-width="0.18" >*</text>
<text x="504.30" y="246.55" font-size="4.65" text-anchor="middle" font-weight="normal" fill="#151515" stroke="#151515" stroke-width="0.18" >-0.05</text>
<text x="504.30" y="250.85" font-size="4.7" text-anchor="middle" font-weight="normal" fill="#151515" stroke="#151515" stroke-width="0.18" >ns</text>
<text x="399.50" y="272.77" font-size="4.65" text-anchor="middle" font-weight="normal" fill="#ffffff" stroke="#ffffff" stroke-width="0.18" >0.55</text>
<text x="399.50" y="278.27" font-size="4.5" text-anchor="middle" font-weight="normal" fill="#ffffff" stroke="#ffffff" stroke-width="0.18" >****</text>
<text x="425.70" y="272.77" font-size="4.65" text-anchor="middle" font-weight="normal" fill="#ffffff" stroke="#ffffff" stroke-width="0.18" >0.46</text>
<text x="425.70" y="278.27" font-size="4.5" text-anchor="middle" font-weight="normal" fill="#ffffff" stroke="#ffffff" stroke-width="0.18" >****</text>
<text x="451.90" y="272.77" font-size="4.65" text-anchor="middle" font-weight="normal" fill="#151515" stroke="#151515" stroke-width="0.18" >0.24</text>
<text x="451.90" y="278.27" font-size="4.5" text-anchor="middle" font-weight="normal" fill="#151515" stroke="#151515" stroke-width="0.18" >*</text>
<text x="478.10" y="272.77" font-size="4.65" text-anchor="middle" font-weight="normal" fill="#151515" stroke="#151515" stroke-width="0.18" >0.11</text>
<text x="478.10" y="277.07" font-size="4.7" text-anchor="middle" font-weight="normal" fill="#151515" stroke="#151515" stroke-width="0.18" >ns</text>
<text x="504.30" y="272.77" font-size="4.65" text-anchor="middle" font-weight="normal" fill="#151515" stroke="#151515" stroke-width="0.18" >0.18</text>
<text x="504.30" y="277.07" font-size="4.7" text-anchor="middle" font-weight="normal" fill="#151515" stroke="#151515" stroke-width="0.18" >ns</text>
<rect x="386.30" y="178.20" width="131.20" height="105.08" fill="none" stroke="#707070" stroke-width="0.7"/>
<line x1="399.50" y1="175.50" x2="399.50" y2="178.30" stroke="#555" stroke-width="0.5"/>
<text x="399.50" y="168.60" font-size="4.8" text-anchor="middle" font-weight="normal" fill="#1a1a1a" stroke="#1a1a1a" stroke-width="0.18" >mBCMA</text>
<text x="399.50" y="173.70" font-size="4.8" text-anchor="middle" font-weight="normal" fill="#1a1a1a" stroke="#1a1a1a" stroke-width="0.18" >BC</text>
<line x1="425.70" y1="175.50" x2="425.70" y2="178.30" stroke="#555" stroke-width="0.5"/>
<text x="425.70" y="168.60" font-size="4.8" text-anchor="middle" font-weight="normal" fill="#1a1a1a" stroke="#1a1a1a" stroke-width="0.18" >mBCMA</text>
<text x="425.70" y="173.70" font-size="4.8" text-anchor="middle" font-weight="normal" fill="#1a1a1a" stroke="#1a1a1a" stroke-width="0.18" >PB</text>
<line x1="451.90" y1="175.50" x2="451.90" y2="178.30" stroke="#555" stroke-width="0.5"/>
<text x="451.90" y="173.70" font-size="4.8" text-anchor="middle" font-weight="normal" fill="#1a1a1a" stroke="#1a1a1a" stroke-width="0.18" >sBCMA</text>
<line x1="478.10" y1="175.50" x2="478.10" y2="178.30" stroke="#555" stroke-width="0.5"/>
<text x="478.10" y="173.70" font-size="4.8" text-anchor="middle" font-weight="normal" fill="#1a1a1a" stroke="#1a1a1a" stroke-width="0.18" >sTACI</text>
<line x1="504.30" y1="175.50" x2="504.30" y2="178.30" stroke="#555" stroke-width="0.5"/>
<text x="504.30" y="173.70" font-size="4.8" text-anchor="middle" font-weight="normal" fill="#1a1a1a" stroke="#1a1a1a" stroke-width="0.18" >sBAFF</text>
<line x1="384.10" y1="191.41" x2="386.40" y2="191.41" stroke="#555" stroke-width="0.5"/>
<text x="382.90" y="193.11" font-size="4.8" text-anchor="end" font-weight="normal" fill="#1a1a1a" stroke="#1a1a1a" stroke-width="0.18" >cSLEDAI</text>
<line x1="384.10" y1="217.63" x2="386.40" y2="217.63" stroke="#555" stroke-width="0.5"/>
<text x="382.90" y="219.33" font-size="4.8" text-anchor="end" font-weight="normal" fill="#1a1a1a" stroke="#1a1a1a" stroke-width="0.18" >Anti-dsDNA</text>
<line x1="384.10" y1="243.85" x2="386.40" y2="243.85" stroke="#555" stroke-width="0.5"/>
<text x="382.90" y="245.55" font-size="4.8" text-anchor="end" font-weight="normal" fill="#1a1a1a" stroke="#1a1a1a" stroke-width="0.18" >C3</text>
<line x1="384.10" y1="270.07" x2="386.40" y2="270.07" stroke="#555" stroke-width="0.5"/>
<text x="382.90" y="271.77" font-size="4.8" text-anchor="end" font-weight="normal" fill="#1a1a1a" stroke="#1a1a1a" stroke-width="0.18" >PB Frequency</text>
<text x="451.90" y="155.70" font-size="6.3" text-anchor="middle" font-weight="bold" fill="#1a1a1a" stroke="#1a1a1a" stroke-width="0.2" >SLE (SOC)</text>
<defs><linearGradient id="g1" x1="0" y1="0" x2="0" y2="1"><stop offset="0" stop-color="rgb(192, 40, 45)"/><stop offset="0.9009" stop-color="#ffffff"/><stop offset="1" stop-color="rgb(55, 142, 240)"/></linearGradient></defs>
<rect x="144.7" y="175.4" width="8.7" height="106.1" fill="url(#g1)" stroke="#777" stroke-width="0.45"/>
<line x1="144.70" y1="175.40" x2="145.70" y2="175.40" stroke="#333" stroke-width="0.4"/>
<line x1="152.40" y1="175.40" x2="153.40" y2="175.40" stroke="#333" stroke-width="0.4"/>
<text x="156.40" y="176.90" font-size="5.5" text-anchor="start" font-weight="normal" fill="#1a1a1a" stroke="#1a1a1a" stroke-width="0.18" >1.00</text>
<line x1="144.70" y1="199.30" x2="145.70" y2="199.30" stroke="#333" stroke-width="0.4"/>
<line x1="152.40" y1="199.30" x2="153.40" y2="199.30" stroke="#333" stroke-width="0.4"/>
<text x="156.40" y="200.80" font-size="5.5" text-anchor="start" font-weight="normal" fill="#1a1a1a" stroke="#1a1a1a" stroke-width="0.18" >0.75</text>
<line x1="144.70" y1="223.19" x2="145.70" y2="223.19" stroke="#333" stroke-width="0.4"/>
<line x1="152.40" y1="223.19" x2="153.40" y2="223.19" stroke="#333" stroke-width="0.4"/>
<text x="156.40" y="224.69" font-size="5.5" text-anchor="start" font-weight="normal" fill="#1a1a1a" stroke="#1a1a1a" stroke-width="0.18" >0.50</text>
<line x1="144.70" y1="247.09" x2="145.70" y2="247.09" stroke="#333" stroke-width="0.4"/>
<line x1="152.40" y1="247.09" x2="153.40" y2="247.09" stroke="#333" stroke-width="0.4"/>
<text x="156.40" y="248.59" font-size="5.5" text-anchor="start" font-weight="normal" fill="#1a1a1a" stroke="#1a1a1a" stroke-width="0.18" >0.25</text>
<line x1="144.70" y1="270.99" x2="145.70" y2="270.99" stroke="#333" stroke-width="0.4"/>
<line x1="152.40" y1="270.99" x2="153.40" y2="270.99" stroke="#333" stroke-width="0.4"/>
<text x="156.40" y="272.49" font-size="5.5" text-anchor="start" font-weight="normal" fill="#1a1a1a" stroke="#1a1a1a" stroke-width="0.18" >0</text>
<defs><linearGradient id="g2" x1="0" y1="0" x2="0" y2="1"><stop offset="0" stop-color="rgb(192, 40, 45)"/><stop offset="0.7092" stop-color="#ffffff"/><stop offset="1" stop-color="rgb(25, 120, 240)"/></linearGradient></defs>
<rect x="318" y="175.6" width="9" height="105.9" fill="url(#g2)" stroke="#777" stroke-width="0.45"/>
<line x1="318.00" y1="175.60" x2="319.00" y2="175.60" stroke="#333" stroke-width="0.4"/>
<line x1="326.00" y1="175.60" x2="327.00" y2="175.60" stroke="#333" stroke-width="0.4"/>
<text x="330.00" y="177.10" font-size="5.5" text-anchor="start" font-weight="normal" fill="#1a1a1a" stroke="#1a1a1a" stroke-width="0.18" >1.00</text>
<line x1="318.00" y1="194.38" x2="319.00" y2="194.38" stroke="#333" stroke-width="0.4"/>
<line x1="326.00" y1="194.38" x2="327.00" y2="194.38" stroke="#333" stroke-width="0.4"/>
<text x="330.00" y="195.88" font-size="5.5" text-anchor="start" font-weight="normal" fill="#1a1a1a" stroke="#1a1a1a" stroke-width="0.18" >0.75</text>
<line x1="318.00" y1="213.15" x2="319.00" y2="213.15" stroke="#333" stroke-width="0.4"/>
<line x1="326.00" y1="213.15" x2="327.00" y2="213.15" stroke="#333" stroke-width="0.4"/>
<text x="330.00" y="214.65" font-size="5.5" text-anchor="start" font-weight="normal" fill="#1a1a1a" stroke="#1a1a1a" stroke-width="0.18" >0.50</text>
<line x1="318.00" y1="231.93" x2="319.00" y2="231.93" stroke="#333" stroke-width="0.4"/>
<line x1="326.00" y1="231.93" x2="327.00" y2="231.93" stroke="#333" stroke-width="0.4"/>
<text x="330.00" y="233.43" font-size="5.5" text-anchor="start" font-weight="normal" fill="#1a1a1a" stroke="#1a1a1a" stroke-width="0.18" >0.25</text>
<line x1="318.00" y1="250.71" x2="319.00" y2="250.71" stroke="#333" stroke-width="0.4"/>
<line x1="326.00" y1="250.71" x2="327.00" y2="250.71" stroke="#333" stroke-width="0.4"/>
<text x="330.00" y="252.21" font-size="5.5" text-anchor="start" font-weight="normal" fill="#1a1a1a" stroke="#1a1a1a" stroke-width="0.18" >0</text>
<line x1="318.00" y1="269.48" x2="319.00" y2="269.48" stroke="#333" stroke-width="0.4"/>
<line x1="326.00" y1="269.48" x2="327.00" y2="269.48" stroke="#333" stroke-width="0.4"/>
<text x="330.00" y="270.98" font-size="5.5" text-anchor="start" font-weight="normal" fill="#1a1a1a" stroke="#1a1a1a" stroke-width="0.18" >-0.25</text>
<defs><linearGradient id="g3" x1="0" y1="0" x2="0" y2="1"><stop offset="0" stop-color="rgb(198, 45, 50)"/><stop offset="0.6790" stop-color="#ffffff"/><stop offset="1" stop-color="rgb(25, 120, 240)"/></linearGradient></defs>
<rect x="526.0" y="178.0" width="8.6" height="105.19999999999999" fill="url(#g3)" stroke="#777" stroke-width="0.45"/>
<line x1="526.00" y1="184.49" x2="527.00" y2="184.49" stroke="#333" stroke-width="0.4"/>
<line x1="533.60" y1="184.49" x2="534.60" y2="184.49" stroke="#333" stroke-width="0.4"/>
<text x="536.80" y="186.99" font-size="6.7" text-anchor="start" font-weight="normal" fill="#1a1a1a" stroke="#1a1a1a" stroke-width="0.18" >0.5</text>
<line x1="526.00" y1="197.48" x2="527.00" y2="197.48" stroke="#333" stroke-width="0.4"/>
<line x1="533.60" y1="197.48" x2="534.60" y2="197.48" stroke="#333" stroke-width="0.4"/>
<text x="536.80" y="199.98" font-size="6.7" text-anchor="start" font-weight="normal" fill="#1a1a1a" stroke="#1a1a1a" stroke-width="0.18" >0.4</text>
<line x1="526.00" y1="210.47" x2="527.00" y2="210.47" stroke="#333" stroke-width="0.4"/>
<line x1="533.60" y1="210.47" x2="534.60" y2="210.47" stroke="#333" stroke-width="0.4"/>
<text x="536.80" y="212.97" font-size="6.7" text-anchor="start" font-weight="normal" fill="#1a1a1a" stroke="#1a1a1a" stroke-width="0.18" >0.3</text>
<line x1="526.00" y1="223.46" x2="527.00" y2="223.46" stroke="#333" stroke-width="0.4"/>
<line x1="533.60" y1="223.46" x2="534.60" y2="223.46" stroke="#333" stroke-width="0.4"/>
<text x="536.80" y="225.96" font-size="6.7" text-anchor="start" font-weight="normal" fill="#1a1a1a" stroke="#1a1a1a" stroke-width="0.18" >0.2</text>
<line x1="526.00" y1="236.44" x2="527.00" y2="236.44" stroke="#333" stroke-width="0.4"/>
<line x1="533.60" y1="236.44" x2="534.60" y2="236.44" stroke="#333" stroke-width="0.4"/>
<text x="536.80" y="238.94" font-size="6.7" text-anchor="start" font-weight="normal" fill="#1a1a1a" stroke="#1a1a1a" stroke-width="0.18" >0.1</text>
<line x1="526.00" y1="249.43" x2="527.00" y2="249.43" stroke="#333" stroke-width="0.4"/>
<line x1="533.60" y1="249.43" x2="534.60" y2="249.43" stroke="#333" stroke-width="0.4"/>
<text x="536.80" y="251.93" font-size="6.7" text-anchor="start" font-weight="normal" fill="#1a1a1a" stroke="#1a1a1a" stroke-width="0.18" >0</text>
<line x1="526.00" y1="262.42" x2="527.00" y2="262.42" stroke="#333" stroke-width="0.4"/>
<line x1="533.60" y1="262.42" x2="534.60" y2="262.42" stroke="#333" stroke-width="0.4"/>
<text x="536.80" y="264.92" font-size="6.7" text-anchor="start" font-weight="normal" fill="#1a1a1a" stroke="#1a1a1a" stroke-width="0.18" >-0.1</text>
<line x1="526.00" y1="275.41" x2="527.00" y2="275.41" stroke="#333" stroke-width="0.4"/>
<line x1="533.60" y1="275.41" x2="534.60" y2="275.41" stroke="#333" stroke-width="0.4"/>
<text x="536.80" y="277.91" font-size="6.7" text-anchor="start" font-weight="normal" fill="#1a1a1a" stroke="#1a1a1a" stroke-width="0.18" >-0.2</text>
</svg>
</body></html>
